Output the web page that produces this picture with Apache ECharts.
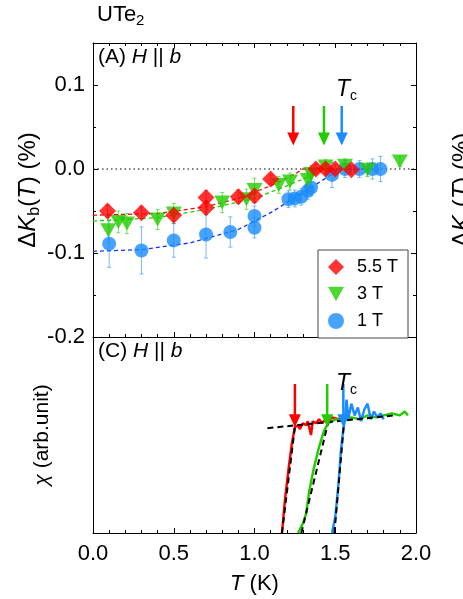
<!DOCTYPE html>
<html>
<head>
<meta charset="utf-8">
<script src="https://cdn.jsdelivr.net/npm/echarts@6/dist/echarts.min.js"></script>
<style>html,body{margin:0;padding:0;background:#fff}#main{width:463px;height:599px}</style>
</head>
<body>
<div id="main"></div>
<script>
// Knight shift data, panel (A): [T, dK, err]
var k55 = [[0.09,-0.050,0.007],[0.30,-0.052,0.007],[0.50,-0.055,0.007],[0.70,-0.034,0.008],[0.70,-0.046,0.008],[0.90,-0.033,0.008],[1.00,-0.032,0.008],[1.10,-0.012,0.005],[1.38,0.000,0.006],[1.44,0.000,0.006],[1.50,0.000,0.005],[1.60,-0.001,0.005]];
var k3 = [[0.095,-0.073,0.015],[0.157,-0.063,0.013],[0.21,-0.065,0.012],[0.40,-0.060,0.012],[0.50,-0.053,0.012],[0.80,-0.040,0.012],[0.95,-0.036,0.012],[1.00,-0.025,0.014],[1.15,-0.019,0.010],[1.22,-0.015,0.010],[1.33,-0.013,0.010],[1.35,-0.006,0.010],[1.44,0.003,0.008],[1.56,0.004,0.008],[1.70,-0.001,0.008],[1.90,0.009,0.006]];
var k1 = [[0.10,-0.089,0.028],[0.30,-0.097,0.028],[0.50,-0.085,0.020],[0.70,-0.078,0.028],[0.85,-0.075,0.018],[1.00,-0.056,0.012],[1.00,-0.070,0.012],[1.21,-0.036,0.010],[1.25,-0.035,0.010],[1.29,-0.033,0.010],[1.33,-0.026,0.010],[1.35,-0.022,0.010],[1.48,-0.007,0.015],[1.56,0.000,0.010],[1.65,0.000,0.010],[1.73,0.000,0.012],[1.78,0.000,0.015]];
// dashed guide curves
var fit55 = [[0,-0.055],[0.4,-0.053],[0.7,-0.045],[0.9,-0.035],[1.1,-0.02],[1.25,-0.006],[1.3,0],[1.5,0]];
var fit3 = [[0,-0.062],[0.4,-0.058],[0.7,-0.048],[1.0,-0.035],[1.2,-0.02],[1.35,-0.008],[1.42,0],[1.6,0]];
var fit1 = [[0,-0.098],[0.3,-0.096],[0.6,-0.088],[0.9,-0.072],[1.1,-0.052],[1.3,-0.028],[1.45,-0.01],[1.52,0],[1.75,0]];
var zeroLine = [[0,0],[2,0]];
// susceptibility, panel (C)
var chi55 = [[1.17,0],[1.19,0.18],[1.21,0.32],[1.23,0.45],[1.25,0.54],[1.27,0.55],[1.28,0.53],[1.30,0.56],[1.32,0.55],[1.33,0.57],[1.35,0.50],[1.36,0.57],[1.38,0.56],[1.40,0.58],[1.42,0.56],[1.44,0.58],[1.46,0.57],[1.48,0.59],[1.52,0.58],[1.56,0.60],[1.60,0.58]];
var chi3 = [[1.27,0],[1.30,0.05],[1.32,0.10],[1.34,0.22],[1.37,0.34],[1.40,0.44],[1.43,0.52],[1.455,0.56],[1.48,0.57],[1.50,0.58],[1.55,0.57],[1.60,0.59],[1.65,0.58],[1.70,0.60],[1.75,0.59],[1.80,0.60],[1.85,0.61],[1.90,0.60],[1.93,0.62],[1.95,0.60]];
var chi1 = [[1.48,0],[1.50,0.08],[1.52,0.25],[1.535,0.42],[1.55,0.53],[1.56,0.58],[1.57,0.68],[1.58,0.58],[1.60,0.66],[1.62,0.60],[1.64,0.64],[1.66,0.57],[1.68,0.63],[1.70,0.66],[1.72,0.58],[1.74,0.62],[1.76,0.59],[1.78,0.61],[1.80,0.58]];
var chiFitFlat = [[1.08,0.535],[1.87,0.60]];
var chiFit55 = [[1.17,0],[1.25,0.54]];
var chiFit3 = [[1.29,0],[1.455,0.56]];
var chiFit1 = [[1.495,0],[1.555,0.57]];
var tcA = [1.24, 1.43, 1.54];
var tcC = [1.25, 1.45, 1.55];

var RED = "#ff0000", GREEN = "#22cc00", BLUE = "#1a8cff";
var FONT = "Liberation Sans";
var DOWN = "path://M0,0L10,0L5,9Z";

var chart = echarts.init(document.getElementById("main"));

function errBars(data, color) {
  return {
    type: "custom", xAxisIndex: 0, yAxisIndex: 0, silent: true, z: 2,
    data: data,
    renderItem: function(params, api) {
      var x = api.value(0), y = api.value(1), e = api.value(2);
      var p1 = api.coord([x, y + e]), p2 = api.coord([x, y - e]);
      var st = { stroke: color, lineWidth: 1, opacity: 0.6 };
      return { type: "group", children: [
        { type: "line", shape: { x1: p1[0], y1: p1[1], x2: p2[0], y2: p2[1] }, style: st },
        { type: "line", shape: { x1: p1[0]-2, y1: p1[1], x2: p1[0]+2, y2: p1[1] }, style: st },
        { type: "line", shape: { x1: p2[0]-2, y1: p2[1], x2: p2[0]+2, y2: p2[1] }, style: st }
      ] };
    }
  };
}

function arrows(list, colors, yTop, yBot, xi, yi) {
  return {
    type: "custom", xAxisIndex: xi, yAxisIndex: yi, silent: true, z: 5,
    data: list,
    renderItem: function(params, api) {
      var x = api.value(0);
      var a = api.coord([x, yTop]), b = api.coord([x, yBot]);
      var c = colors[params.dataIndex];
      return { type: "group", children: [
        { type: "line", shape: { x1: a[0], y1: a[1], x2: b[0], y2: b[1] - 10 }, style: { stroke: c, lineWidth: 2.5 } },
        { type: "polygon", shape: { points: [[b[0]-6, b[1]-13], [b[0]+6, b[1]-13], [b[0], b[1]]] }, style: { fill: c } }
      ] };
    }
  };
}

function line(data, color, xi, yi, type, width) {
  return { type: "line", xAxisIndex: xi, yAxisIndex: yi, data: data, symbol: "none", silent: true,
    lineStyle: { color: color, width: width || 1.5, type: type || "solid" }, z: 3 };
}

var axisBase = {
  axisLine: { onZero: false, lineStyle: { color: "#000", width: 1 } },
  axisTick: { inside: true, length: 5, lineStyle: { color: "#000" } },
  minorTick: { show: true, splitNumber: 5, length: 3, lineStyle: { color: "#000" } },
  splitLine: { show: false },
  axisLabel: { color: "#000", fontFamily: FONT, fontSize: 22 }
};
var plainY = { type: "value", min: 0, max: 1, axisLabel: { show: false }, axisTick: { show: false },
  splitLine: { show: false }, axisLine: { onZero: false, lineStyle: { color: "#000" } } };

var option = {
  animation: false,
  textStyle: { fontFamily: FONT },
  grid: [
    { left: 93, top: 43, width: 323, height: 294 },
    { left: 93, top: 337, width: 323, height: 196 }
  ],
  xAxis: [
    echarts.util.merge({ gridIndex: 0, type: "value", min: 0, max: 2, interval: 0.5, axisLabel: { show: false } }, axisBase, false),
    echarts.util.merge({ gridIndex: 1, type: "value", min: 0, max: 2, interval: 0.5,
      name: "{i|T} (K)", nameLocation: "middle", nameGap: 40,
      nameTextStyle: { fontSize: 22, color: "#000", fontFamily: FONT, rich: { i: { fontStyle: "italic", fontSize: 22, fontFamily: FONT } } },
      axisLabel: { formatter: function(v) { return v.toFixed(1); }, margin: 10 } }, axisBase, false),
    echarts.util.merge({ gridIndex: 0, type: "value", position: "top", min: 0, max: 2, interval: 0.5, axisLabel: { show: false } }, axisBase, false)
  ],
  yAxis: [
    echarts.util.merge({ gridIndex: 0, type: "value", min: -0.2, max: 0.15, interval: 0.1,
      minorTick: { splitNumber: 2 },
      axisLabel: { showMaxLabel: false, formatter: function(v) { return v.toFixed(1); }, margin: 8 } }, axisBase, false),
    echarts.util.merge({ gridIndex: 1 }, plainY, false),
    echarts.util.merge({ gridIndex: 0, type: "value", position: "right", min: -0.2, max: 0.15, interval: 0.1,
      minorTick: { splitNumber: 2 }, axisLabel: { show: false } }, axisBase, false),
    echarts.util.merge({ gridIndex: 1, position: "right" }, plainY, false)
  ],
  legend: {
    orient: "vertical", left: 318, top: 250, itemGap: 9, itemWidth: 16, itemHeight: 16,
    padding: [8, 10, 8, 10], borderColor: "#444", borderWidth: 1, backgroundColor: "#fff",
    textStyle: { fontSize: 18, color: "#000", fontFamily: FONT, padding: [0, 0, 0, 8] },
    data: [
      { name: "5.5 T", icon: "diamond" },
      { name: "3 T", icon: DOWN },
      { name: "1 T", icon: "circle" }
    ]
  },
  graphic: [
    { type: "text", left: 97, top: 4, style: { text: "UTe{s|2}", fontSize: 22, fontFamily: FONT, fill: "#000",
      rich: { s: { fontSize: 15, fontFamily: FONT, verticalAlign: "bottom", padding: [12, 0, 0, 0] } } } },
    { type: "text", left: 98, top: 47, z: 10, style: { text: "(A) {i|H} || {i|b}", fontSize: 21, fontFamily: FONT, fill: "#000",
      rich: { i: { fontStyle: "italic", fontSize: 21, fontFamily: FONT } } } },
    { type: "text", left: 98, top: 341, z: 10, style: { text: "(C) {i|H} || {i|b}", fontSize: 21, fontFamily: FONT, fill: "#000",
      rich: { i: { fontStyle: "italic", fontSize: 21, fontFamily: FONT } } } },
    { type: "text", left: 336, top: 78, z: 10, style: { text: "{i|T}{s|c}", fill: "#000",
      rich: { i: { fontStyle: "italic", fontSize: 23, fontFamily: FONT }, s: { fontSize: 14, fontFamily: FONT, padding: [14, 0, 0, 0] } } } },
    { type: "text", left: 336, top: 372, z: 10, style: { text: "{i|T}{s|c}", fill: "#000",
      rich: { i: { fontStyle: "italic", fontSize: 23, fontFamily: FONT }, s: { fontSize: 14, fontFamily: FONT, padding: [14, 0, 0, 0] } } } },
    { type: "text", x: 28, y: 190, rotation: Math.PI / 2, z: 10,
      style: { text: "Δ{i|K}{s|b}({i|T}) (%)", fontSize: 24, fontFamily: FONT, fill: "#000", align: "center", verticalAlign: "middle",
        rich: { i: { fontStyle: "italic", fontSize: 24, fontFamily: FONT }, s: { fontSize: 16, fontFamily: FONT, padding: [14, 0, 0, 0] } } } },
    { type: "text", x: 462, y: 190, rotation: Math.PI / 2, z: 10,
      style: { text: "Δ{i|K}{s|c}({i|T}) (%)", fontSize: 24, fontFamily: FONT, fill: "#000", align: "center", verticalAlign: "middle",
        rich: { i: { fontStyle: "italic", fontSize: 24, fontFamily: FONT }, s: { fontSize: 16, fontFamily: FONT, padding: [14, 0, 0, 0] } } } },
    { type: "text", x: 42, y: 435, rotation: Math.PI / 2, z: 10,
      style: { text: "{i|χ} (arb.unit)", fontSize: 21, fontFamily: FONT, fill: "#000", align: "center", verticalAlign: "middle",
        rich: { i: { fontStyle: "italic", fontSize: 21, fontFamily: FONT } } } }
  ],
  series: [
    line(zeroLine, "#000", 0, 0, [1.5, 3], 1.2),
    line(fit55, RED, 0, 0, [4, 3], 1.3),
    line(fit3, GREEN, 0, 0, [4, 3], 1.3),
    line(fit1, "#1030ff", 0, 0, [4, 3], 1.3),
    errBars(k55, RED), errBars(k3, GREEN), errBars(k1, BLUE),
    { name: "1 T", type: "scatter", xAxisIndex: 0, yAxisIndex: 0, symbol: "circle", symbolSize: 14,
      itemStyle: { color: BLUE }, data: k1, z: 4 },
    { name: "3 T", type: "scatter", xAxisIndex: 0, yAxisIndex: 0, symbol: DOWN, symbolSize: [16, 14],
      itemStyle: { color: GREEN }, data: k3, z: 4 },
    { name: "5.5 T", type: "scatter", xAxisIndex: 0, yAxisIndex: 0, symbol: "diamond", symbolSize: 17,
      itemStyle: { color: RED }, data: k55, z: 4 },
    arrows(tcA, [RED, GREEN, BLUE], 0.075, 0.028, 0, 0),
    line(chi55, RED, 1, 1, "solid", 2.5),
    line(chi3, GREEN, 1, 1, "solid", 2.5),
    line(chi1, BLUE, 1, 1, "solid", 2.5),
    line(chiFitFlat, "#000", 1, 1, [6, 4], 2),
    line(chiFit55, "#000", 1, 1, [6, 4], 2),
    line(chiFit3, "#000", 1, 1, [6, 4], 2),
    line(chiFit1, "#000", 1, 1, [6, 4], 2),
    arrows(tcC, [RED, GREEN, BLUE], 0.76, 0.54, 1, 1)
  ]
};
chart.setOption(option);
window.addEventListener("resize", chart.resize);
</script>
</body>
</html>
